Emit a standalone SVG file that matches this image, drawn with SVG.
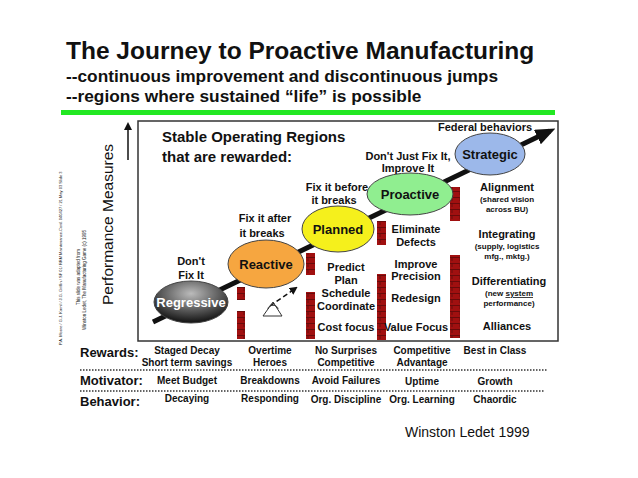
<svg xmlns="http://www.w3.org/2000/svg" width="638" height="478" viewBox="0 0 638 478">
<style>
text{font-family:"Liberation Sans",Arial,sans-serif;fill:#111}
.b{font-weight:bold}
.s{font-size:10px;font-weight:bold;text-anchor:middle}
.xs{font-size:8px;font-weight:bold;text-anchor:middle}
.lab{font-size:11px;font-weight:bold;text-anchor:middle}
.row{font-size:13px;font-weight:bold}
.el{stroke:#444;stroke-width:1}
.et{font-size:13px;font-weight:bold;text-anchor:middle}
.dot{stroke:#333;stroke-width:1.5;stroke-dasharray:1.5 1.5}
</style>
<defs>
<radialGradient id="gReg" cx="50%" cy="30%" r="70%"><stop offset="0" stop-color="#bbb"/><stop offset="1" stop-color="#111"/></radialGradient>
<marker id="ah" markerWidth="8" markerHeight="8" refX="6" refY="4" orient="auto" markerUnits="userSpaceOnUse"><path d="M0,0 L8,4 L0,8 Z" fill="#111"/></marker>
<marker id="ahb" markerWidth="20" markerHeight="16" refX="14" refY="8" orient="auto" markerUnits="userSpaceOnUse"><path d="M0,0 L20,8 L0,16 Z" fill="#111"/></marker>
<pattern id="brick" width="8" height="6" patternUnits="userSpaceOnUse"><rect width="8" height="6" fill="#a01010"/><path d="M0,5.5H8M4,0V3" stroke="#5a0a0a" stroke-width="0.8"/></pattern>
</defs>
<rect width="638" height="478" fill="#fff"/>
<g id="title">
<text x="66" y="59" class="b" font-size="24.5">The Journey to Proactive Manufacturing</text>
<text x="66" y="82" class="b" font-size="17.3">--continuous improvement and discontinuous jumps</text>
<text x="66" y="102" class="b" font-size="17.3">--regions where sustained “life” is possible</text>
<rect x="61" y="110" width="494" height="5" fill="#22e822"/>
</g>
<g id="side">
<text transform="translate(62,345) rotate(-90)" font-size="4">P.A. Moore / G.J. Kamil / J.G. Griffin / SF 01/ RRM Maintenance.Conf. 040427 / 21 May 03   Slide 3</text>
<text transform="translate(80,305) rotate(-90)" font-size="4.5">This slide was adapted from</text>
<text transform="translate(86,330) rotate(-90)" font-size="4.5">Winston Ledet, The Manufacturing Game (c) 1995</text>
<text transform="translate(113,305) rotate(-90)" font-size="15.5">Performance Measures</text>
<line x1="128" y1="160" x2="128" y2="124" stroke="#111" stroke-width="1.5" marker-end="url(#ah)"/>
</g>
<rect x="138" y="121" width="420" height="220" fill="#fff" stroke="#333" stroke-width="1.5"/>
<text x="162" y="142" class="b" font-size="15">Stable Operating Regions</text>
<text x="162" y="162" class="b" font-size="15">that are rewarded:</text>
<g id="bars">
<rect x="237" y="287" width="8" height="13" fill="url(#brick)"/>
<rect x="237" y="311" width="8" height="28" fill="url(#brick)"/>
<rect x="306" y="253" width="9" height="22" fill="url(#brick)"/>
<rect x="306" y="292" width="9" height="47" fill="url(#brick)"/>
<rect x="377" y="221" width="9" height="24" fill="url(#brick)"/>
<rect x="377" y="274" width="9" height="66" fill="url(#brick)"/>
<rect x="450" y="187" width="10" height="34" fill="url(#brick)"/>
<rect x="450" y="255" width="10" height="83" fill="url(#brick)"/>
</g>
<g id="connectors">
<line x1="153" y1="322" x2="550" y2="131" stroke="#111" stroke-width="5" marker-end="url(#ahb)"/>
<line x1="270" y1="306" x2="296" y2="288" stroke="#111" stroke-width="1.5" stroke-dasharray="5 3" marker-end="url(#ah)"/>
<path d="M263,316 L273,302 L282,316 Z M268,309 A4,3 0 0 1 278,309" fill="none" stroke="#333" stroke-width="1"/>
</g>
<g id="regressive"><ellipse cx="191" cy="302" rx="37" ry="21" fill="url(#gReg)" class="el"/><text x="191" y="307" class="et" style="fill:#fff">Regressive</text>
<text x="191" y="265" class="lab">Don't</text><text x="191" y="279" class="lab">Fix It</text></g>
<g id="reactive"><ellipse cx="266" cy="264" rx="38" ry="24" fill="#f6a640" class="el"/><text x="266" y="269" class="et">Reactive</text>
<text x="265" y="222" class="lab">Fix it after</text><text x="262" y="237" class="lab">it breaks</text></g>
<g id="planned"><ellipse cx="338" cy="229" rx="36" ry="23" fill="#f5f01c" class="el"/><text x="338" y="234" class="et">Planned</text>
<text x="337" y="191" class="lab">Fix it before</text><text x="334" y="204" class="lab">it breaks</text>
<text x="346" y="271" class="lab">Predict</text><text x="346" y="284" class="lab">Plan</text><text x="346" y="297" class="lab">Schedule</text><text x="346" y="310" class="lab">Coordinate</text><text x="346" y="331" class="lab">Cost focus</text></g>
<g id="proactive"><ellipse cx="410" cy="194" rx="43" ry="21" fill="#90ee90" class="el"/><text x="410" y="199" class="et">Proactive</text>
<text x="408" y="160" class="lab">Don't Just Fix It,</text><text x="408" y="172" class="lab">Improve It</text>
<text x="416" y="233" class="lab">Eliminate</text><text x="416" y="246" class="lab">Defects</text><text x="416" y="268" class="lab">Improve</text><text x="416" y="280" class="lab">Precision</text><text x="416" y="302" class="lab">Redesign</text><text x="416" y="331" class="lab">Value Focus</text></g>
<g id="strategic"><ellipse cx="490" cy="154" rx="35" ry="21" fill="#9cb8ea" class="el"/><text x="490" y="159" class="et">Strategic</text>
<text x="485" y="131" class="lab">Federal behaviors</text>
<text x="507" y="191" class="lab">Alignment</text><text x="507" y="202" class="xs">(shared vision</text><text x="507" y="212" class="xs">across BU)</text>
<text x="507" y="238" class="lab">Integrating</text><text x="507" y="249" class="xs">(supply, logistics</text><text x="507" y="259" class="xs">mfg., mktg.)</text>
<text x="509" y="285" class="lab">Differentiating</text><text x="509" y="296" class="xs">(new <tspan text-decoration="underline">system</tspan></text><text x="509" y="306" class="xs">performance)</text>
<text x="507" y="330" class="lab">Alliances</text></g>
<g id="rows">
<text x="80" y="357" class="row">Rewards:</text>
<text x="187" y="354" class="s">Staged Decay</text><text x="187" y="366" class="s">Short term savings</text>
<text x="270" y="354" class="s">Overtime</text><text x="270" y="366" class="s">Heroes</text>
<text x="346" y="354" class="s">No Surprises</text><text x="346" y="366" class="s">Competitive</text>
<text x="422" y="354" class="s">Competitive</text><text x="422" y="366" class="s">Advantage</text>
<text x="495" y="354" class="s">Best in Class</text>
<line x1="80" y1="370" x2="547" y2="370" class="dot"/>
<text x="80" y="385" class="row">Motivator:</text>
<text x="187" y="384" class="s">Meet Budget</text><text x="270" y="384" class="s">Breakdowns</text><text x="346" y="384" class="s">Avoid Failures</text><text x="422" y="385" class="s">Uptime</text><text x="495" y="385" class="s">Growth</text>
<line x1="80" y1="391" x2="545" y2="391" class="dot"/>
<text x="80" y="406" class="row">Behavior:</text>
<text x="187" y="402" class="s">Decaying</text><text x="270" y="402" class="s">Responding</text><text x="346" y="403" class="s">Org. Discipline</text><text x="422" y="403" class="s">Org. Learning</text><text x="495" y="403" class="s">Chaordic</text>
</g>
<text x="405" y="437" font-size="14" font-family="Carlito,'Liberation Sans',sans-serif">Winston Ledet 1999</text>
</svg>
